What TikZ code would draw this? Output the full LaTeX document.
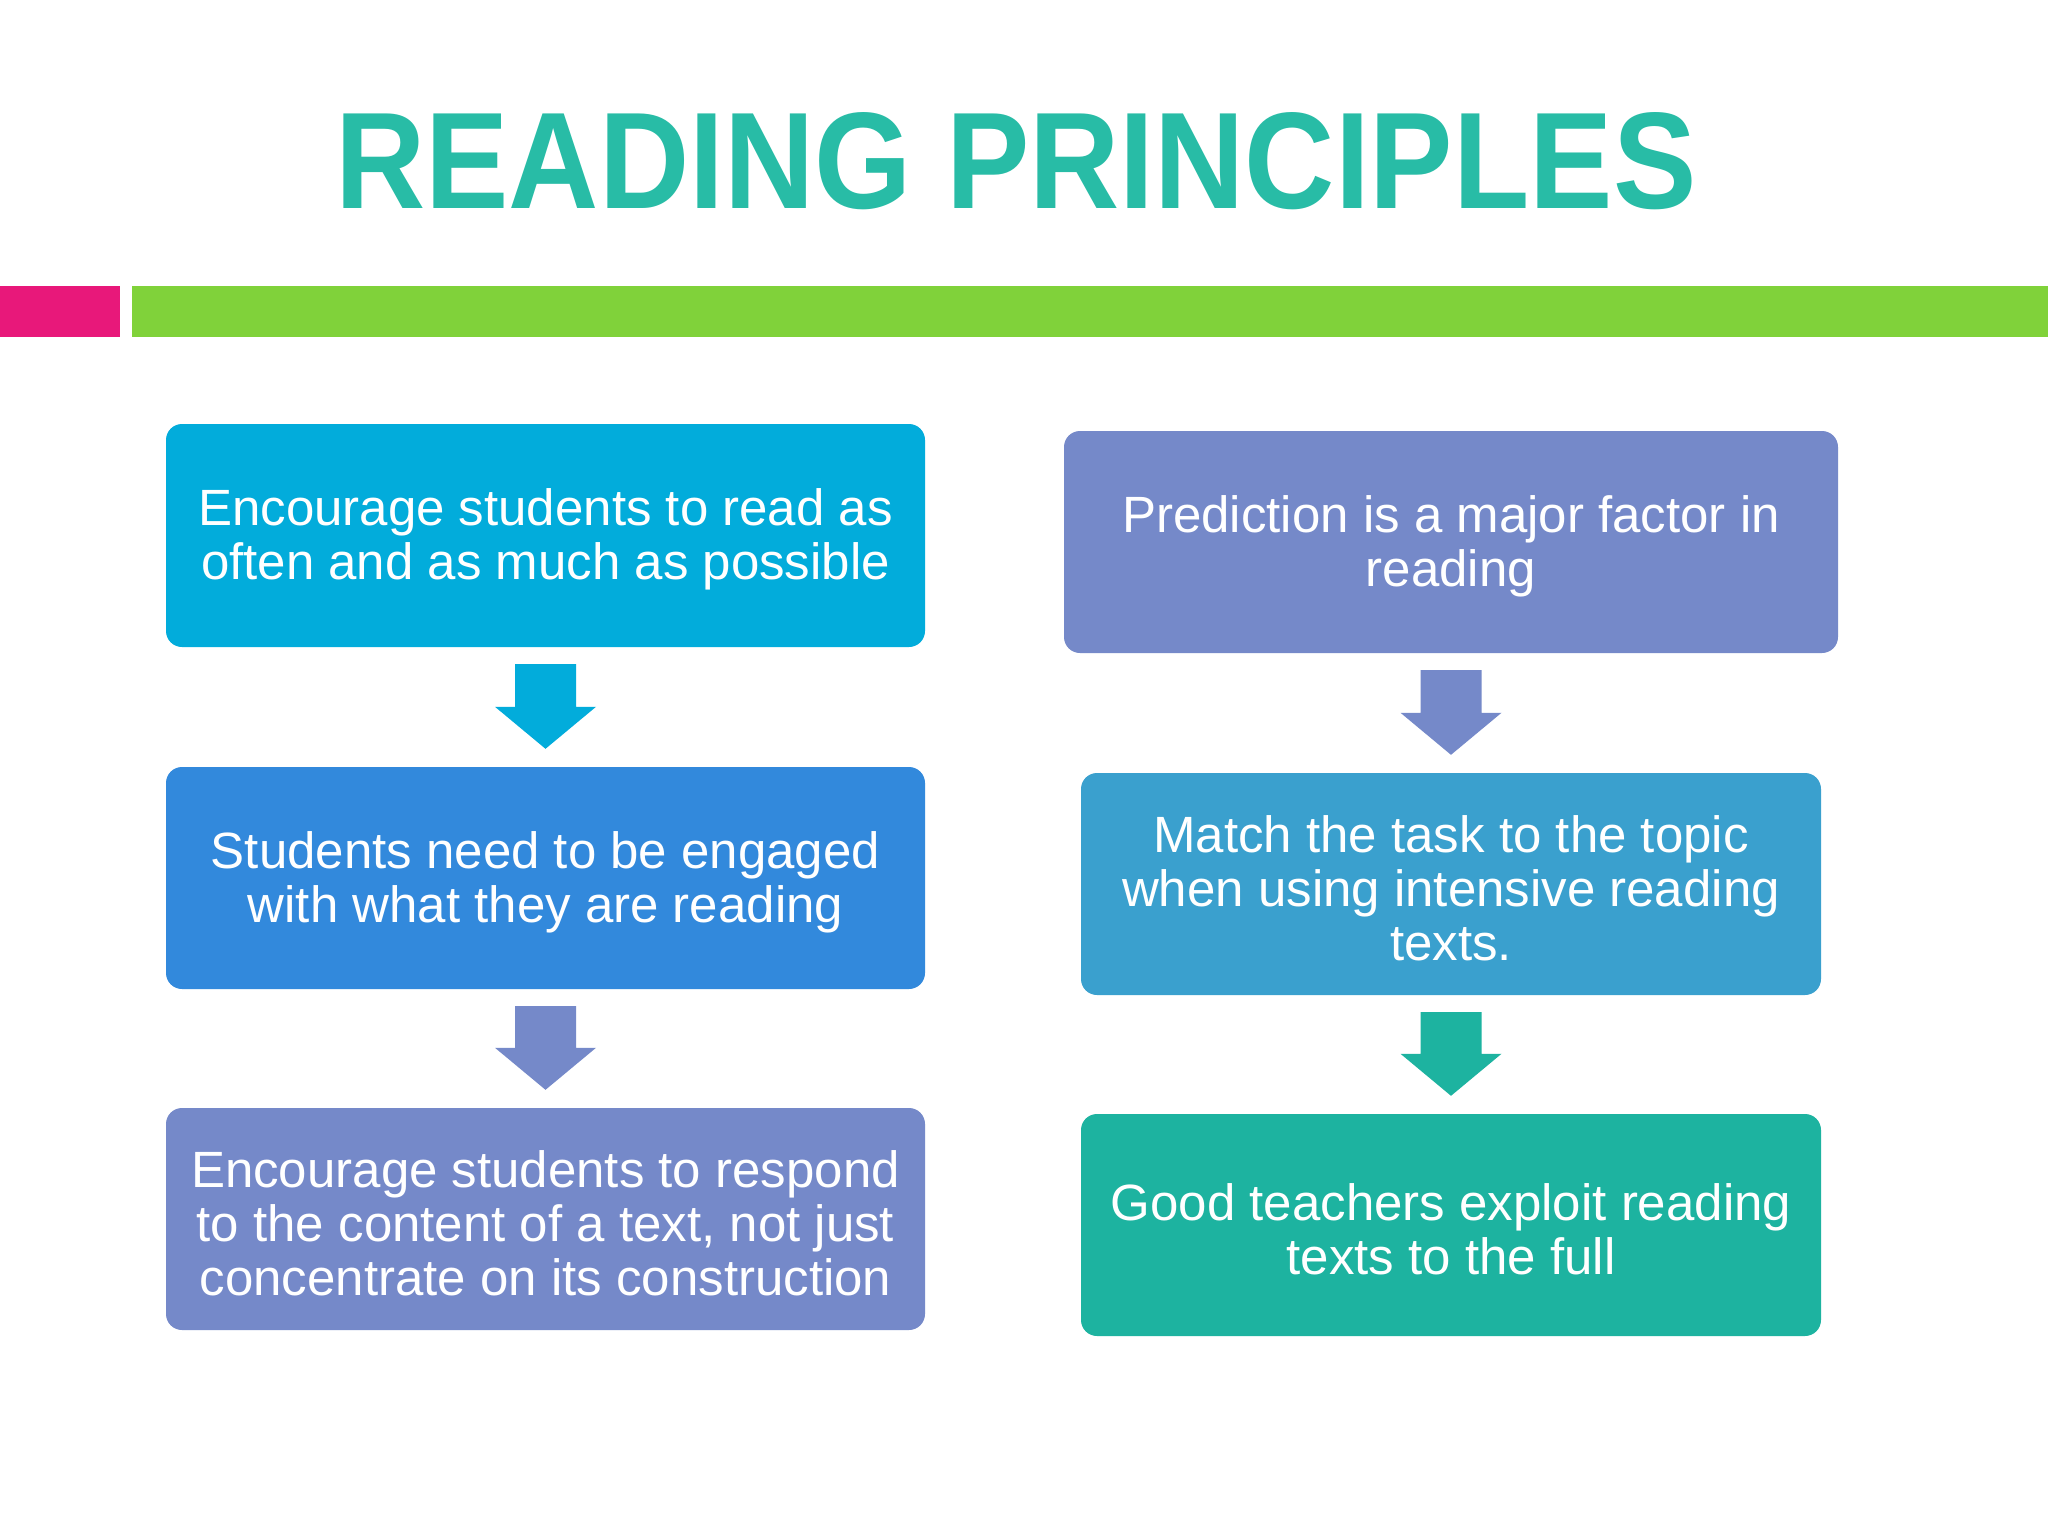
\documentclass[tikz,border=0pt]{standalone}
\usepackage{fontspec}
\setmainfont{Liberation Sans}
\usetikzlibrary{calc}
\definecolor{cBlueA}{RGB}{2,172,219}
\definecolor{cBlueB}{RGB}{50,137,220}
\definecolor{cPurple}{RGB}{117,137,201}
\definecolor{cBlueC}{RGB}{58,160,206}
\definecolor{cTeal}{RGB}{29,179,160}
\definecolor{cPink}{RGB}{232,24,122}
\definecolor{cGreen}{RGB}{128,210,58}
\definecolor{cTitle}{RGB}{40,188,166}
\newcommand\txtdrop{\rule{0pt}{45pt}}
\tikzset{
  box/.style={rectangle, rounded corners=16pt, align=center, text=white,
    font=\fontsize{51}{54}\selectfont, inner sep=0pt},
}
\newcommand\blockdown[3]{%
  \fill[#1] ($(#2.south)+(-30.5pt,-17pt)$) -- ($(#2.south)+(30.5pt,-17pt)$)
    -- ($(#3.north)+(30.5pt,60pt)$) -- ($(#3.north)+(50.5pt,60pt)$)
    -- ($(#3.north)+(0pt,18pt)$) -- ($(#3.north)+(-50.5pt,60pt)$)
    -- ($(#3.north)+(-30.5pt,60pt)$) -- cycle;}
\begin{document}
\begin{tikzpicture}[x=1pt,y=-1pt]
\useasboundingbox[fill=white] (0,0) rectangle (2048,1536);
% bars
\fill[cPink] (0,286) rectangle (120,337);
\fill[cGreen] (132,286) rectangle (2048,337);
% title
\node[anchor=base, text=cTitle, inner sep=0pt] (title) at (1016,208)
  {\scalebox{1}[1.1]{\fontsize{125}{130}\selectfont\bfseries READING PRINCIPLES}};
% left column
\node[box, fill=cBlueA, minimum width=759pt, minimum height=223pt] (l1) at (545.5,535.5)
  {\txtdrop Encourage students to read as\\often and as much as possible};
\node[box, fill=cBlueB, minimum width=759pt, minimum height=222pt] (l2) at (545.5,878)
  {\txtdrop Students need to be engaged\\with what they are reading};
\node[box, fill=cPurple, minimum width=759pt, minimum height=222pt] (l3) at (545.5,1219)
  {\txtdrop Encourage students to respond\\to the content of a text, not just\\concentrate on its construction};
% right column
\node[box, fill=cPurple, minimum width=774pt, minimum height=222pt] (r1) at (1451,542)
  {\txtdrop Prediction is a major factor in\\reading};
\node[box, fill=cBlueC, minimum width=740pt, minimum height=222pt] (r2) at (1451,884)
  {\txtdrop Match the task to the topic\\when using intensive reading\\texts.};
\node[box, fill=cTeal, minimum width=740pt, minimum height=222pt] (r3) at (1451,1225)
  {\txtdrop Good teachers exploit reading\\texts to the full};
% arrows
\blockdown{cBlueA}{l1}{l2}
\blockdown{cPurple}{l2}{l3}
\blockdown{cPurple}{r1}{r2}
\blockdown{cTeal}{r2}{r3}
\end{tikzpicture}
\end{document}
